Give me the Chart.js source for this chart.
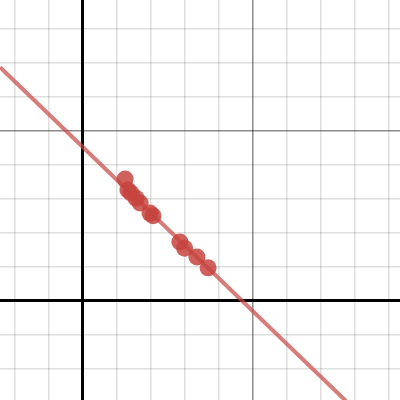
<!DOCTYPE html>
<html>
<head>
<meta charset="utf-8">
<script src="https://cdn.jsdelivr.net/npm/chart.js@4"></script>
<style>
html,body{margin:0;padding:0;background:#fff;}
#c{display:block;}
</style>
</head>
<body>
<canvas id="c" width="400" height="400"></canvas>
<script>
// Data points
const pointX = [1.24, 1.32, 1.41, 1.56, 1.68, 1.97, 2.06, 2.85, 2.99, 3.35, 3.68];
const pointY = [3.57, 3.25, 3.16, 3.01, 2.87, 2.57, 2.49, 1.72, 1.54, 1.28, 0.96];
// Trend line endpoints (left edge to bottom edge)
const lineX = [-2.44, 7.76];
const lineY = [6.86, -2.98];
// Axis window and grid ticks
const xRange = [-2.441, 9.324];
const yRange = [-2.926, 8.838];
const xTicks = [-2, -1, 0, 1, 2, 3, 4, 5, 6, 7, 8, 9];
const yTicks = [-2, -1, 0, 1, 2, 3, 4, 5, 6, 7, 8];

function gridColor(ctx) {
  const v = ctx.tick ? ctx.tick.value : 1;
  if (v === 0) return '#000000';
  if (v % 5 === 0) return 'rgba(0,0,0,0.45)';
  return 'rgba(0,0,0,0.13)';
}
function gridWidth(ctx) {
  const v = ctx.tick ? ctx.tick.value : 1;
  if (v === 0) return 3;
  return 1.5;
}

new Chart(document.getElementById('c'), {
  type: 'scatter',
  data: {
    datasets: [
      {
        data: pointX.map((x, i) => ({x: x, y: pointY[i]})),
        backgroundColor: 'rgba(199,68,64,0.85)',
        borderWidth: 0,
        pointRadius: 8.5,
        order: 0
      },
      {
        data: lineX.map((x, i) => ({x: x, y: lineY[i]})),
        showLine: true,
        borderColor: 'rgba(199,68,64,0.7)',
        borderWidth: 4,
        pointRadius: 0,
        order: 1
      }
    ]
  },
  options: {
    responsive: false,
    animation: false,
    layout: {padding: 0, autoPadding: false},
    plugins: {legend: {display: false}, tooltip: {enabled: false}},
    scales: {
      x: {
        type: 'linear', min: xRange[0], max: xRange[1],
        afterBuildTicks: s => { s.ticks = xTicks.map(v => ({value: v})); },
        ticks: {display: false},
        border: {display: false},
        grid: {color: gridColor, lineWidth: gridWidth, drawTicks: false}
      },
      y: {
        type: 'linear', min: yRange[0], max: yRange[1],
        afterBuildTicks: s => { s.ticks = yTicks.map(v => ({value: v})); },
        ticks: {display: false},
        border: {display: false},
        grid: {color: gridColor, lineWidth: gridWidth, drawTicks: false}
      }
    }
  }
});
</script>
</body>
</html>
